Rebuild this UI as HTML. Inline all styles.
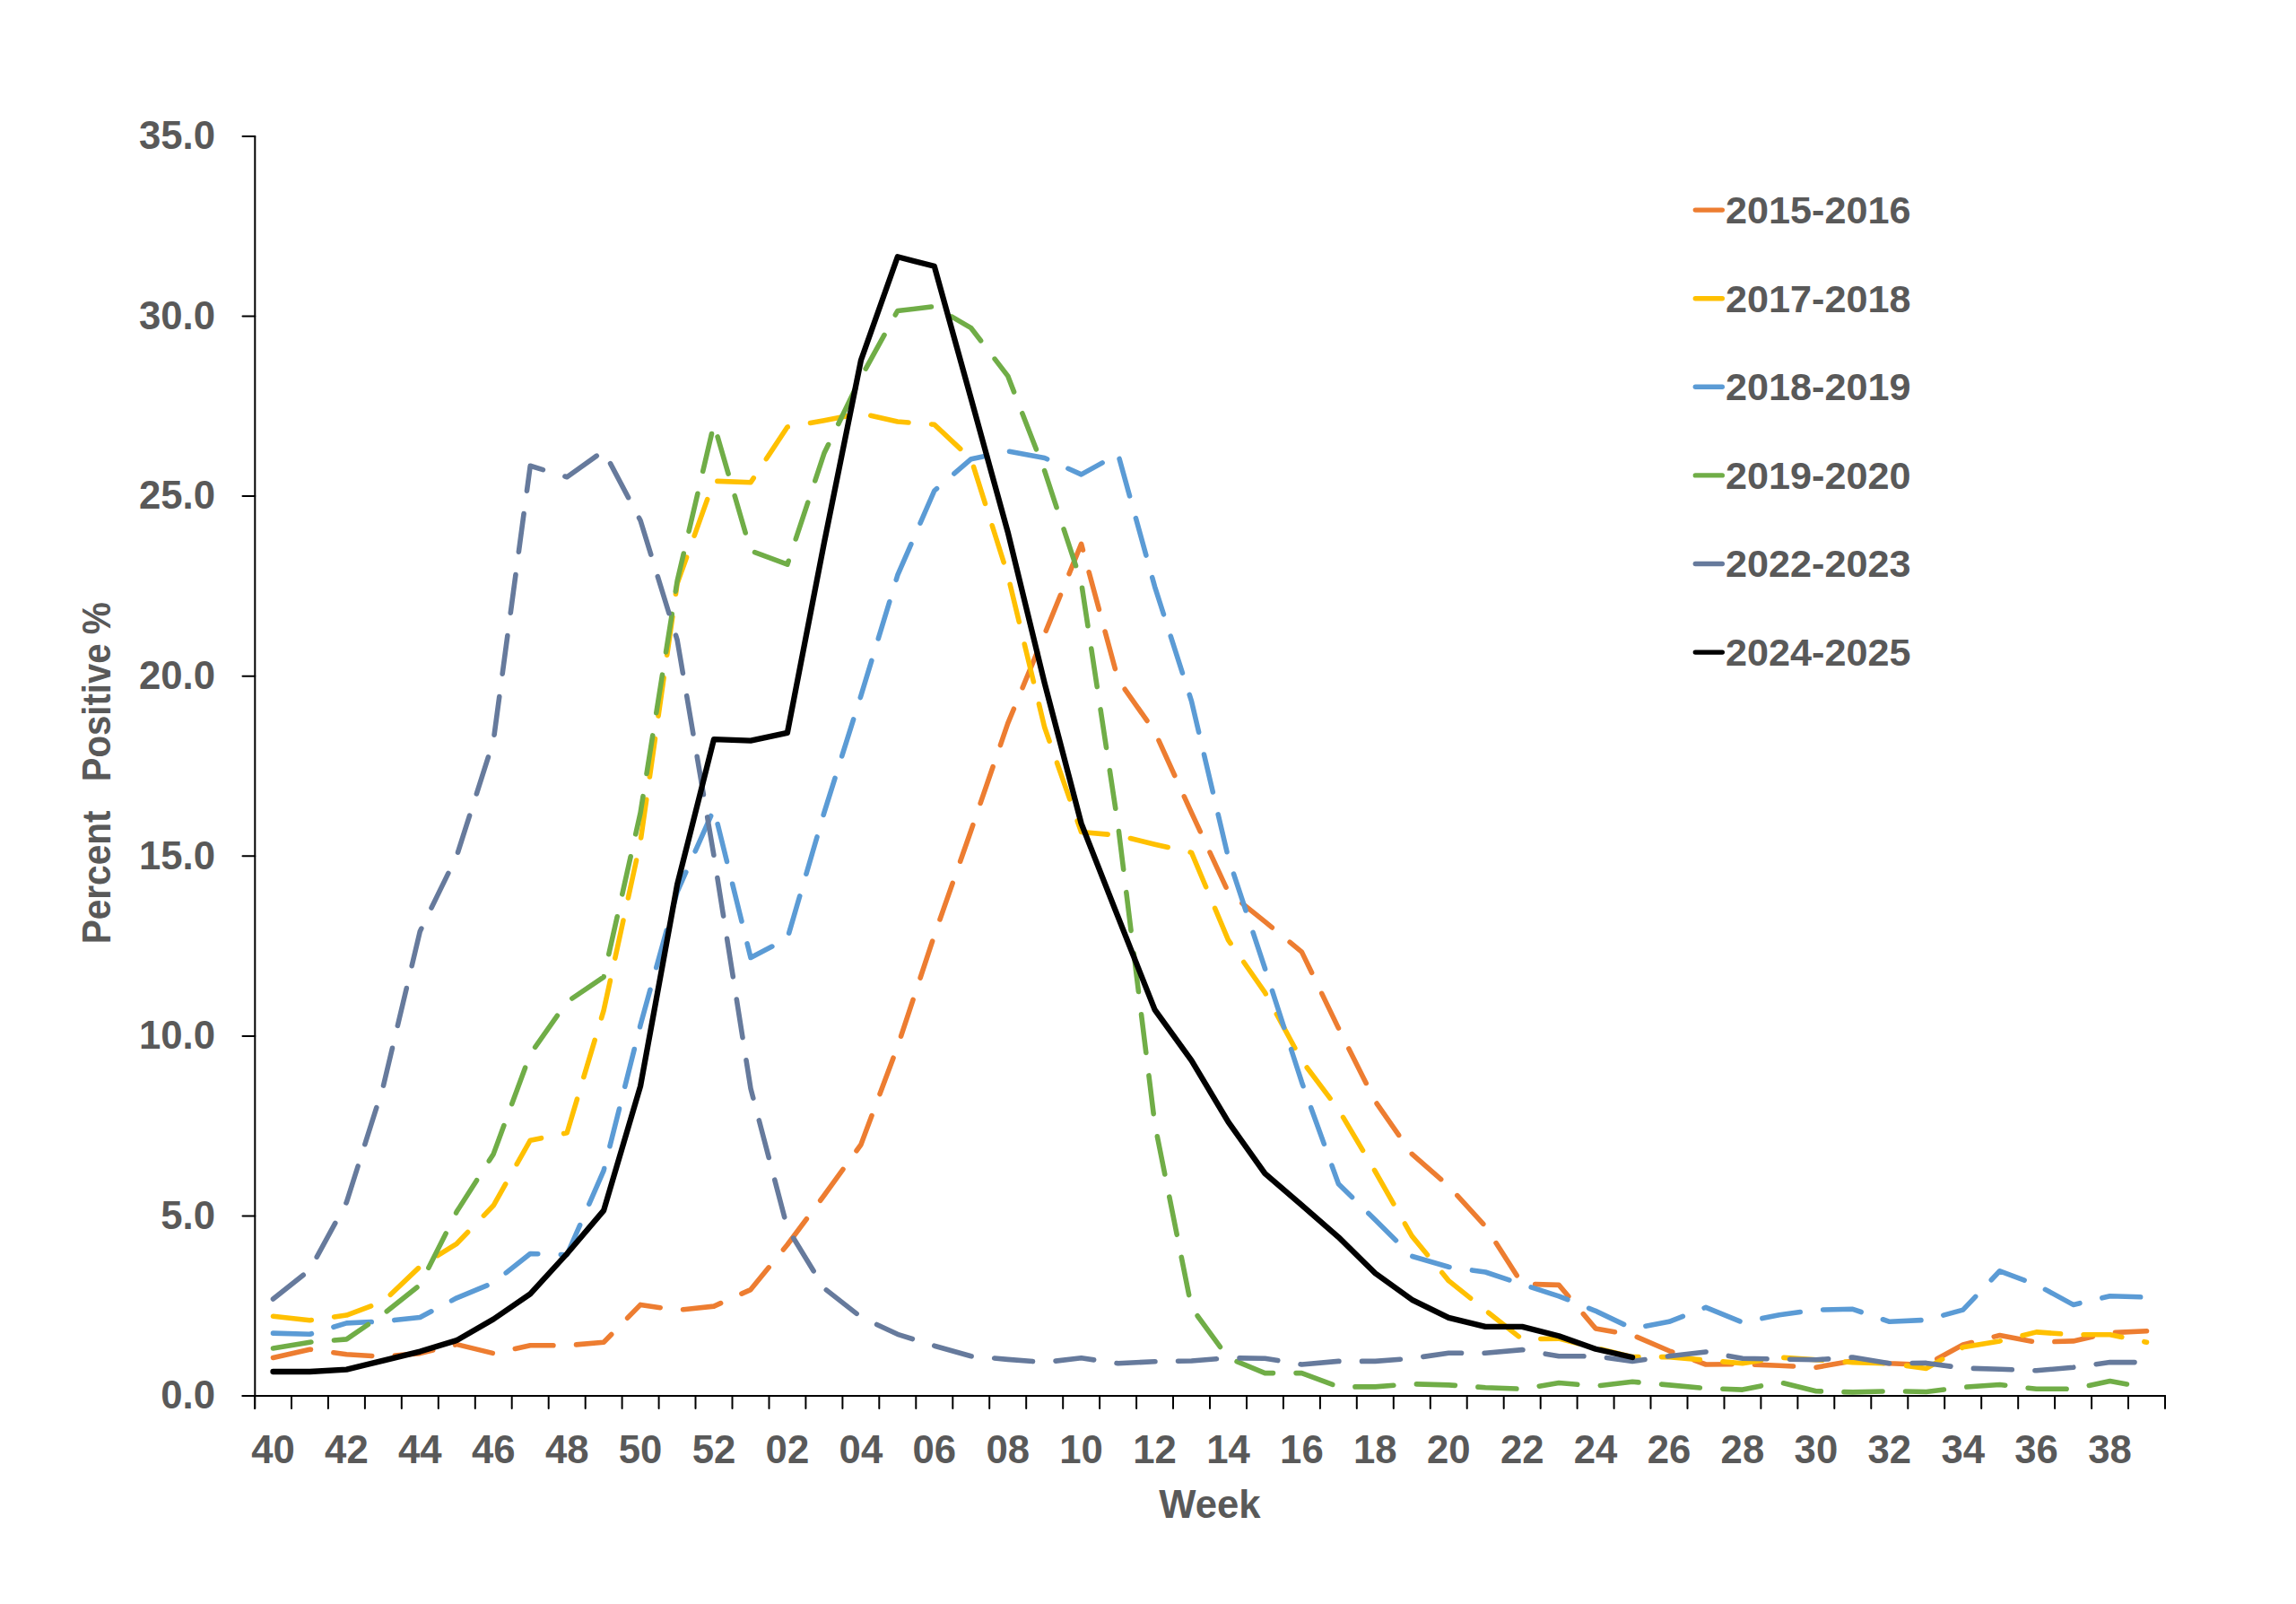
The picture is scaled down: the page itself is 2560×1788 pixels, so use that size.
<!DOCTYPE html>
<html><head><meta charset="utf-8"><style>
html,body{margin:0;padding:0;background:#fff;}
body{width:2560px;height:1788px;overflow:hidden;}
svg{display:block;}
text{font-family:"Liberation Sans",sans-serif;font-weight:bold;fill:#595959;}
</style></head><body>
<svg width="2560" height="1788" viewBox="0 0 2560 1788">
<rect width="2560" height="1788" fill="#fff"/>

<g stroke="#000" stroke-width="2.0" fill="none" stroke-linecap="round">
<polyline points="284.3,152.0 284.3,1570.0" stroke-linejoin="round"/>
<line x1="270.5" y1="1556.0" x2="284.3" y2="1556.0"/>
<line x1="270.5" y1="1355.4" x2="284.3" y2="1355.4"/>
<line x1="270.5" y1="1154.9" x2="284.3" y2="1154.9"/>
<line x1="270.5" y1="954.3" x2="284.3" y2="954.3"/>
<line x1="270.5" y1="753.7" x2="284.3" y2="753.7"/>
<line x1="270.5" y1="553.1" x2="284.3" y2="553.1"/>
<line x1="270.5" y1="352.6" x2="284.3" y2="352.6"/>
<line x1="270.5" y1="152.0" x2="284.3" y2="152.0"/>
<line x1="270.5" y1="1556.0" x2="2414.0" y2="1556.0"/>
<line x1="284.0" y1="1556.0" x2="284.0" y2="1570.0"/>
<line x1="325.0" y1="1556.0" x2="325.0" y2="1570.0"/>
<line x1="365.9" y1="1556.0" x2="365.9" y2="1570.0"/>
<line x1="406.9" y1="1556.0" x2="406.9" y2="1570.0"/>
<line x1="447.8" y1="1556.0" x2="447.8" y2="1570.0"/>
<line x1="488.8" y1="1556.0" x2="488.8" y2="1570.0"/>
<line x1="529.8" y1="1556.0" x2="529.8" y2="1570.0"/>
<line x1="570.7" y1="1556.0" x2="570.7" y2="1570.0"/>
<line x1="611.7" y1="1556.0" x2="611.7" y2="1570.0"/>
<line x1="652.7" y1="1556.0" x2="652.7" y2="1570.0"/>
<line x1="693.6" y1="1556.0" x2="693.6" y2="1570.0"/>
<line x1="734.6" y1="1556.0" x2="734.6" y2="1570.0"/>
<line x1="775.5" y1="1556.0" x2="775.5" y2="1570.0"/>
<line x1="816.5" y1="1556.0" x2="816.5" y2="1570.0"/>
<line x1="857.5" y1="1556.0" x2="857.5" y2="1570.0"/>
<line x1="898.4" y1="1556.0" x2="898.4" y2="1570.0"/>
<line x1="939.4" y1="1556.0" x2="939.4" y2="1570.0"/>
<line x1="980.3" y1="1556.0" x2="980.3" y2="1570.0"/>
<line x1="1021.3" y1="1556.0" x2="1021.3" y2="1570.0"/>
<line x1="1062.3" y1="1556.0" x2="1062.3" y2="1570.0"/>
<line x1="1103.2" y1="1556.0" x2="1103.2" y2="1570.0"/>
<line x1="1144.2" y1="1556.0" x2="1144.2" y2="1570.0"/>
<line x1="1185.2" y1="1556.0" x2="1185.2" y2="1570.0"/>
<line x1="1226.1" y1="1556.0" x2="1226.1" y2="1570.0"/>
<line x1="1267.1" y1="1556.0" x2="1267.1" y2="1570.0"/>
<line x1="1308.0" y1="1556.0" x2="1308.0" y2="1570.0"/>
<line x1="1349.0" y1="1556.0" x2="1349.0" y2="1570.0"/>
<line x1="1390.0" y1="1556.0" x2="1390.0" y2="1570.0"/>
<line x1="1430.9" y1="1556.0" x2="1430.9" y2="1570.0"/>
<line x1="1471.9" y1="1556.0" x2="1471.9" y2="1570.0"/>
<line x1="1512.8" y1="1556.0" x2="1512.8" y2="1570.0"/>
<line x1="1553.8" y1="1556.0" x2="1553.8" y2="1570.0"/>
<line x1="1594.8" y1="1556.0" x2="1594.8" y2="1570.0"/>
<line x1="1635.7" y1="1556.0" x2="1635.7" y2="1570.0"/>
<line x1="1676.7" y1="1556.0" x2="1676.7" y2="1570.0"/>
<line x1="1717.7" y1="1556.0" x2="1717.7" y2="1570.0"/>
<line x1="1758.6" y1="1556.0" x2="1758.6" y2="1570.0"/>
<line x1="1799.6" y1="1556.0" x2="1799.6" y2="1570.0"/>
<line x1="1840.5" y1="1556.0" x2="1840.5" y2="1570.0"/>
<line x1="1881.5" y1="1556.0" x2="1881.5" y2="1570.0"/>
<line x1="1922.5" y1="1556.0" x2="1922.5" y2="1570.0"/>
<line x1="1963.4" y1="1556.0" x2="1963.4" y2="1570.0"/>
<line x1="2004.4" y1="1556.0" x2="2004.4" y2="1570.0"/>
<line x1="2045.3" y1="1556.0" x2="2045.3" y2="1570.0"/>
<line x1="2086.3" y1="1556.0" x2="2086.3" y2="1570.0"/>
<line x1="2127.3" y1="1556.0" x2="2127.3" y2="1570.0"/>
<line x1="2168.2" y1="1556.0" x2="2168.2" y2="1570.0"/>
<line x1="2209.2" y1="1556.0" x2="2209.2" y2="1570.0"/>
<line x1="2250.2" y1="1556.0" x2="2250.2" y2="1570.0"/>
<line x1="2291.1" y1="1556.0" x2="2291.1" y2="1570.0"/>
<line x1="2332.1" y1="1556.0" x2="2332.1" y2="1570.0"/>
<line x1="2373.0" y1="1556.0" x2="2373.0" y2="1570.0"/>
<line x1="2414.0" y1="1556.0" x2="2414.0" y2="1570.0"/>
</g>
<text x="240" y="1570.3" font-size="43.7" text-anchor="end">0.0</text>
<text x="240" y="1369.7" font-size="43.7" text-anchor="end">5.0</text>
<text x="240" y="1169.2" font-size="43.7" text-anchor="end">10.0</text>
<text x="240" y="968.6" font-size="43.7" text-anchor="end">15.0</text>
<text x="240" y="768.0" font-size="43.7" text-anchor="end">20.0</text>
<text x="240" y="567.4" font-size="43.7" text-anchor="end">25.0</text>
<text x="240" y="366.9" font-size="43.7" text-anchor="end">30.0</text>
<text x="240" y="166.3" font-size="43.7" text-anchor="end">35.0</text>
<text x="304.5" y="1631" font-size="43.7" text-anchor="middle">40</text>
<text x="386.4" y="1631" font-size="43.7" text-anchor="middle">42</text>
<text x="468.3" y="1631" font-size="43.7" text-anchor="middle">44</text>
<text x="550.2" y="1631" font-size="43.7" text-anchor="middle">46</text>
<text x="632.2" y="1631" font-size="43.7" text-anchor="middle">48</text>
<text x="714.1" y="1631" font-size="43.7" text-anchor="middle">50</text>
<text x="796.0" y="1631" font-size="43.7" text-anchor="middle">52</text>
<text x="877.9" y="1631" font-size="43.7" text-anchor="middle">02</text>
<text x="959.9" y="1631" font-size="43.7" text-anchor="middle">04</text>
<text x="1041.8" y="1631" font-size="43.7" text-anchor="middle">06</text>
<text x="1123.7" y="1631" font-size="43.7" text-anchor="middle">08</text>
<text x="1205.6" y="1631" font-size="43.7" text-anchor="middle">10</text>
<text x="1287.6" y="1631" font-size="43.7" text-anchor="middle">12</text>
<text x="1369.5" y="1631" font-size="43.7" text-anchor="middle">14</text>
<text x="1451.4" y="1631" font-size="43.7" text-anchor="middle">16</text>
<text x="1533.3" y="1631" font-size="43.7" text-anchor="middle">18</text>
<text x="1615.2" y="1631" font-size="43.7" text-anchor="middle">20</text>
<text x="1697.2" y="1631" font-size="43.7" text-anchor="middle">22</text>
<text x="1779.1" y="1631" font-size="43.7" text-anchor="middle">24</text>
<text x="1861.0" y="1631" font-size="43.7" text-anchor="middle">26</text>
<text x="1942.9" y="1631" font-size="43.7" text-anchor="middle">28</text>
<text x="2024.9" y="1631" font-size="43.7" text-anchor="middle">30</text>
<text x="2106.8" y="1631" font-size="43.7" text-anchor="middle">32</text>
<text x="2188.7" y="1631" font-size="43.7" text-anchor="middle">34</text>
<text x="2270.6" y="1631" font-size="43.7" text-anchor="middle">36</text>
<text x="2352.6" y="1631" font-size="43.7" text-anchor="middle">38</text>
<text x="1349" y="1692" font-size="43.7" text-anchor="middle">Week</text>
<text transform="translate(123,977.9) rotate(-90) scale(0.929,1)" x="0" y="0" font-size="43.7" text-anchor="middle">Percent</text>
<text transform="translate(123,794.3) rotate(-90) scale(0.918,1)" x="0" y="0" font-size="43.7" text-anchor="middle">Positive</text>
<text transform="translate(123,689.15) rotate(-90) scale(0.93,1)" x="0" y="0" font-size="43.7" text-anchor="middle">%</text>
<polyline points="304.5,1513.4 345.4,1504.2 386.4,1509.8 427.4,1512.2 468.3,1508.6 509.3,1498.6 550.2,1508.6 591.2,1499.8 632.2,1499.8 673.1,1496.2 714.1,1454.4 755.1,1460.5 796.0,1456.1 837.0,1437.6 877.9,1387.5 918.9,1332.5 959.9,1276.0 1000.8,1166.5 1041.8,1042.6 1082.8,925.5 1123.7,806.4 1164.7,707.0 1205.6,606.3 1246.6,757.5 1287.6,815.7 1328.5,905.9 1369.5,994.5 1410.4,1027.4 1451.4,1061.1 1492.4,1146.1 1533.3,1227.5 1574.3,1286.4 1615.2,1322.1 1656.2,1367.0 1697.2,1431.2 1738.1,1432.4 1779.1,1480.9 1820.1,1488.1 1861.0,1505.8 1902.0,1521.0 1942.9,1520.6 1983.9,1522.2 2024.9,1524.2 2065.8,1517.0 2106.8,1519.8 2147.8,1521.4 2188.7,1499.0 2229.7,1488.5 2270.6,1496.2 2311.6,1494.9 2352.6,1485.7 2393.5,1483.7" fill="none" stroke="#ED7D31" stroke-width="5.6" stroke-linecap="round" stroke-linejoin="round" stroke-dasharray="43 25.6"/>
<polyline points="304.5,1467.3 345.4,1471.7 386.4,1466.1 427.4,1450.8 468.3,1411.9 509.3,1386.3 550.2,1343.8 591.2,1271.2 632.2,1262.8 673.1,1126.4 714.1,938.0 755.1,650.4 796.0,536.2 837.0,537.8 877.9,476.0 918.9,468.8 959.9,460.8 1000.8,470.0 1041.8,473.2 1082.8,511.7 1123.7,641.2 1164.7,810.8 1205.6,927.5 1246.6,931.1 1287.6,941.2 1328.5,950.4 1369.5,1047.8 1410.4,1106.4 1451.4,1182.2 1492.4,1236.7 1533.3,1305.7 1574.3,1377.9 1615.2,1427.6 1656.2,1460.5 1697.2,1492.9 1738.1,1492.1 1779.1,1502.6 1820.1,1512.6 1861.0,1512.6 1902.0,1516.2 1942.9,1519.8 1983.9,1513.0 2024.9,1515.8 2065.8,1518.6 2106.8,1519.8 2147.8,1525.4 2188.7,1501.8 2229.7,1494.9 2270.6,1484.9 2311.6,1487.7 2352.6,1487.7 2393.5,1496.2" fill="none" stroke="#FFC000" stroke-width="5.6" stroke-linecap="round" stroke-linejoin="round" stroke-dasharray="43 25.6"/>
<polyline points="304.5,1486.1 345.4,1487.3 386.4,1474.9 427.4,1472.9 468.3,1468.5 509.3,1446.8 550.2,1430.0 591.2,1397.5 632.2,1398.7 673.1,1304.9 714.1,1142.5 755.1,994.1 796.0,901.9 837.0,1067.5 877.9,1046.2 918.9,905.9 959.9,775.6 1000.8,641.2 1041.8,547.0 1082.8,511.7 1123.7,502.9 1164.7,510.5 1205.6,528.9 1246.6,506.1 1287.6,654.1 1328.5,781.6 1369.5,956.0 1410.4,1079.5 1451.4,1206.2 1492.4,1319.7 1533.3,1359.8 1574.3,1400.3 1615.2,1412.3 1656.2,1418.0 1697.2,1431.6 1738.1,1444.8 1779.1,1461.3 1820.1,1480.9 1861.0,1473.3 1902.0,1457.3 1942.9,1474.1 1983.9,1465.7 2024.9,1460.1 2065.8,1459.3 2106.8,1473.3 2147.8,1471.3 2188.7,1460.1 2229.7,1416.8 2270.6,1432.0 2311.6,1454.4 2352.6,1444.8 2393.5,1446.0" fill="none" stroke="#5B9BD5" stroke-width="5.6" stroke-linecap="round" stroke-linejoin="round" stroke-dasharray="43 25.6"/>
<polyline points="304.5,1503.0 345.4,1496.2 386.4,1492.9 427.4,1464.9 468.3,1432.4 509.3,1350.6 550.2,1286.4 591.2,1175.0 632.2,1116.8 673.1,1089.1 714.1,905.9 755.1,647.6 796.0,472.8 837.0,614.0 877.9,629.2 918.9,505.3 959.9,420.7 1000.8,346.5 1041.8,341.7 1082.8,365.7 1123.7,419.1 1164.7,524.9 1205.6,649.2 1246.6,919.9 1287.6,1253.1 1328.5,1457.7 1369.5,1513.8 1410.4,1530.6 1451.4,1530.6 1492.4,1545.9 1533.3,1545.9 1574.3,1542.7 1615.2,1543.9 1656.2,1546.7 1697.2,1548.3 1738.1,1541.5 1779.1,1545.1 1820.1,1540.3 1861.0,1543.9 1902.0,1547.5 1942.9,1549.1 1983.9,1540.7 2024.9,1550.7 2065.8,1551.9 2106.8,1550.7 2147.8,1551.5 2188.7,1546.3 2229.7,1543.5 2270.6,1548.3 2311.6,1548.3 2352.6,1539.5 2393.5,1547.1" fill="none" stroke="#70AD47" stroke-width="5.6" stroke-linecap="round" stroke-linejoin="round" stroke-dasharray="43 25.6"/>
<polyline points="304.5,1448.0 345.4,1415.6 386.4,1340.2 427.4,1210.6 468.3,1038.2 509.3,954.0 550.2,825.7 591.2,519.3 632.2,531.7 673.1,502.5 714.1,580.3 755.1,713.4 796.0,954.0 837.0,1213.4 877.9,1369.0 918.9,1436.0 959.9,1468.1 1000.8,1487.3 1041.8,1500.2 1082.8,1511.8 1123.7,1515.4 1164.7,1518.6 1205.6,1513.8 1246.6,1519.8 1287.6,1517.8 1328.5,1517.0 1369.5,1513.8 1410.4,1514.2 1451.4,1521.0 1492.4,1517.4 1533.3,1517.4 1574.3,1514.2 1615.2,1508.2 1656.2,1508.2 1697.2,1504.6 1738.1,1511.8 1779.1,1511.8 1820.1,1517.4 1861.0,1511.8 1902.0,1507.0 1942.9,1514.2 1983.9,1515.0 2024.9,1515.8 2065.8,1513.0 2106.8,1519.8 2147.8,1519.4 2188.7,1525.0 2229.7,1526.2 2270.6,1527.8 2311.6,1524.2 2352.6,1518.6 2393.5,1518.6" fill="none" stroke="#667A9C" stroke-width="5.6" stroke-linecap="round" stroke-linejoin="round" stroke-dasharray="43 25.6"/>
<polyline points="304.5,1529.0 345.4,1529.0 386.4,1526.6 427.4,1516.6 468.3,1506.6 509.3,1494.1 550.2,1470.5 591.2,1442.4 632.2,1397.5 673.1,1349.4 714.1,1210.6 755.1,986.1 796.0,824.1 837.0,825.7 877.9,816.9 918.9,605.1 959.9,401.8 1000.8,286.3 1041.8,296.8 1082.8,444.7 1123.7,593.1 1164.7,761.5 1205.6,917.9 1246.6,1022.2 1287.6,1125.6 1328.5,1182.2 1369.5,1250.7 1410.4,1308.1 1451.4,1343.4 1492.4,1379.1 1533.3,1419.2 1574.3,1448.8 1615.2,1468.9 1656.2,1478.9 1697.2,1478.9 1738.1,1489.3 1779.1,1503.8 1820.1,1513.0" fill="none" stroke="#000000" stroke-width="6.3" stroke-linecap="round" stroke-linejoin="round"/>
<line x1="1890.3" y1="234.1" x2="1920.3" y2="234.1" stroke="#ED7D31" stroke-width="5.4" stroke-linecap="round"/>
<text x="1924" y="248.9" font-size="43.2">2015-2016</text>
<line x1="1890.3" y1="332.7" x2="1920.3" y2="332.7" stroke="#FFC000" stroke-width="5.4" stroke-linecap="round"/>
<text x="1924" y="347.5" font-size="43.2">2017-2018</text>
<line x1="1890.3" y1="431.3" x2="1920.3" y2="431.3" stroke="#5B9BD5" stroke-width="5.4" stroke-linecap="round"/>
<text x="1924" y="446.1" font-size="43.2">2018-2019</text>
<line x1="1890.3" y1="529.9" x2="1920.3" y2="529.9" stroke="#70AD47" stroke-width="5.4" stroke-linecap="round"/>
<text x="1924" y="544.7" font-size="43.2">2019-2020</text>
<line x1="1890.3" y1="628.5" x2="1920.3" y2="628.5" stroke="#667A9C" stroke-width="5.4" stroke-linecap="round"/>
<text x="1924" y="643.3" font-size="43.2">2022-2023</text>
<line x1="1890.3" y1="727.1" x2="1920.3" y2="727.1" stroke="#000000" stroke-width="5.4" stroke-linecap="round"/>
<text x="1924" y="741.9" font-size="43.2">2024-2025</text>
</svg></body></html>
